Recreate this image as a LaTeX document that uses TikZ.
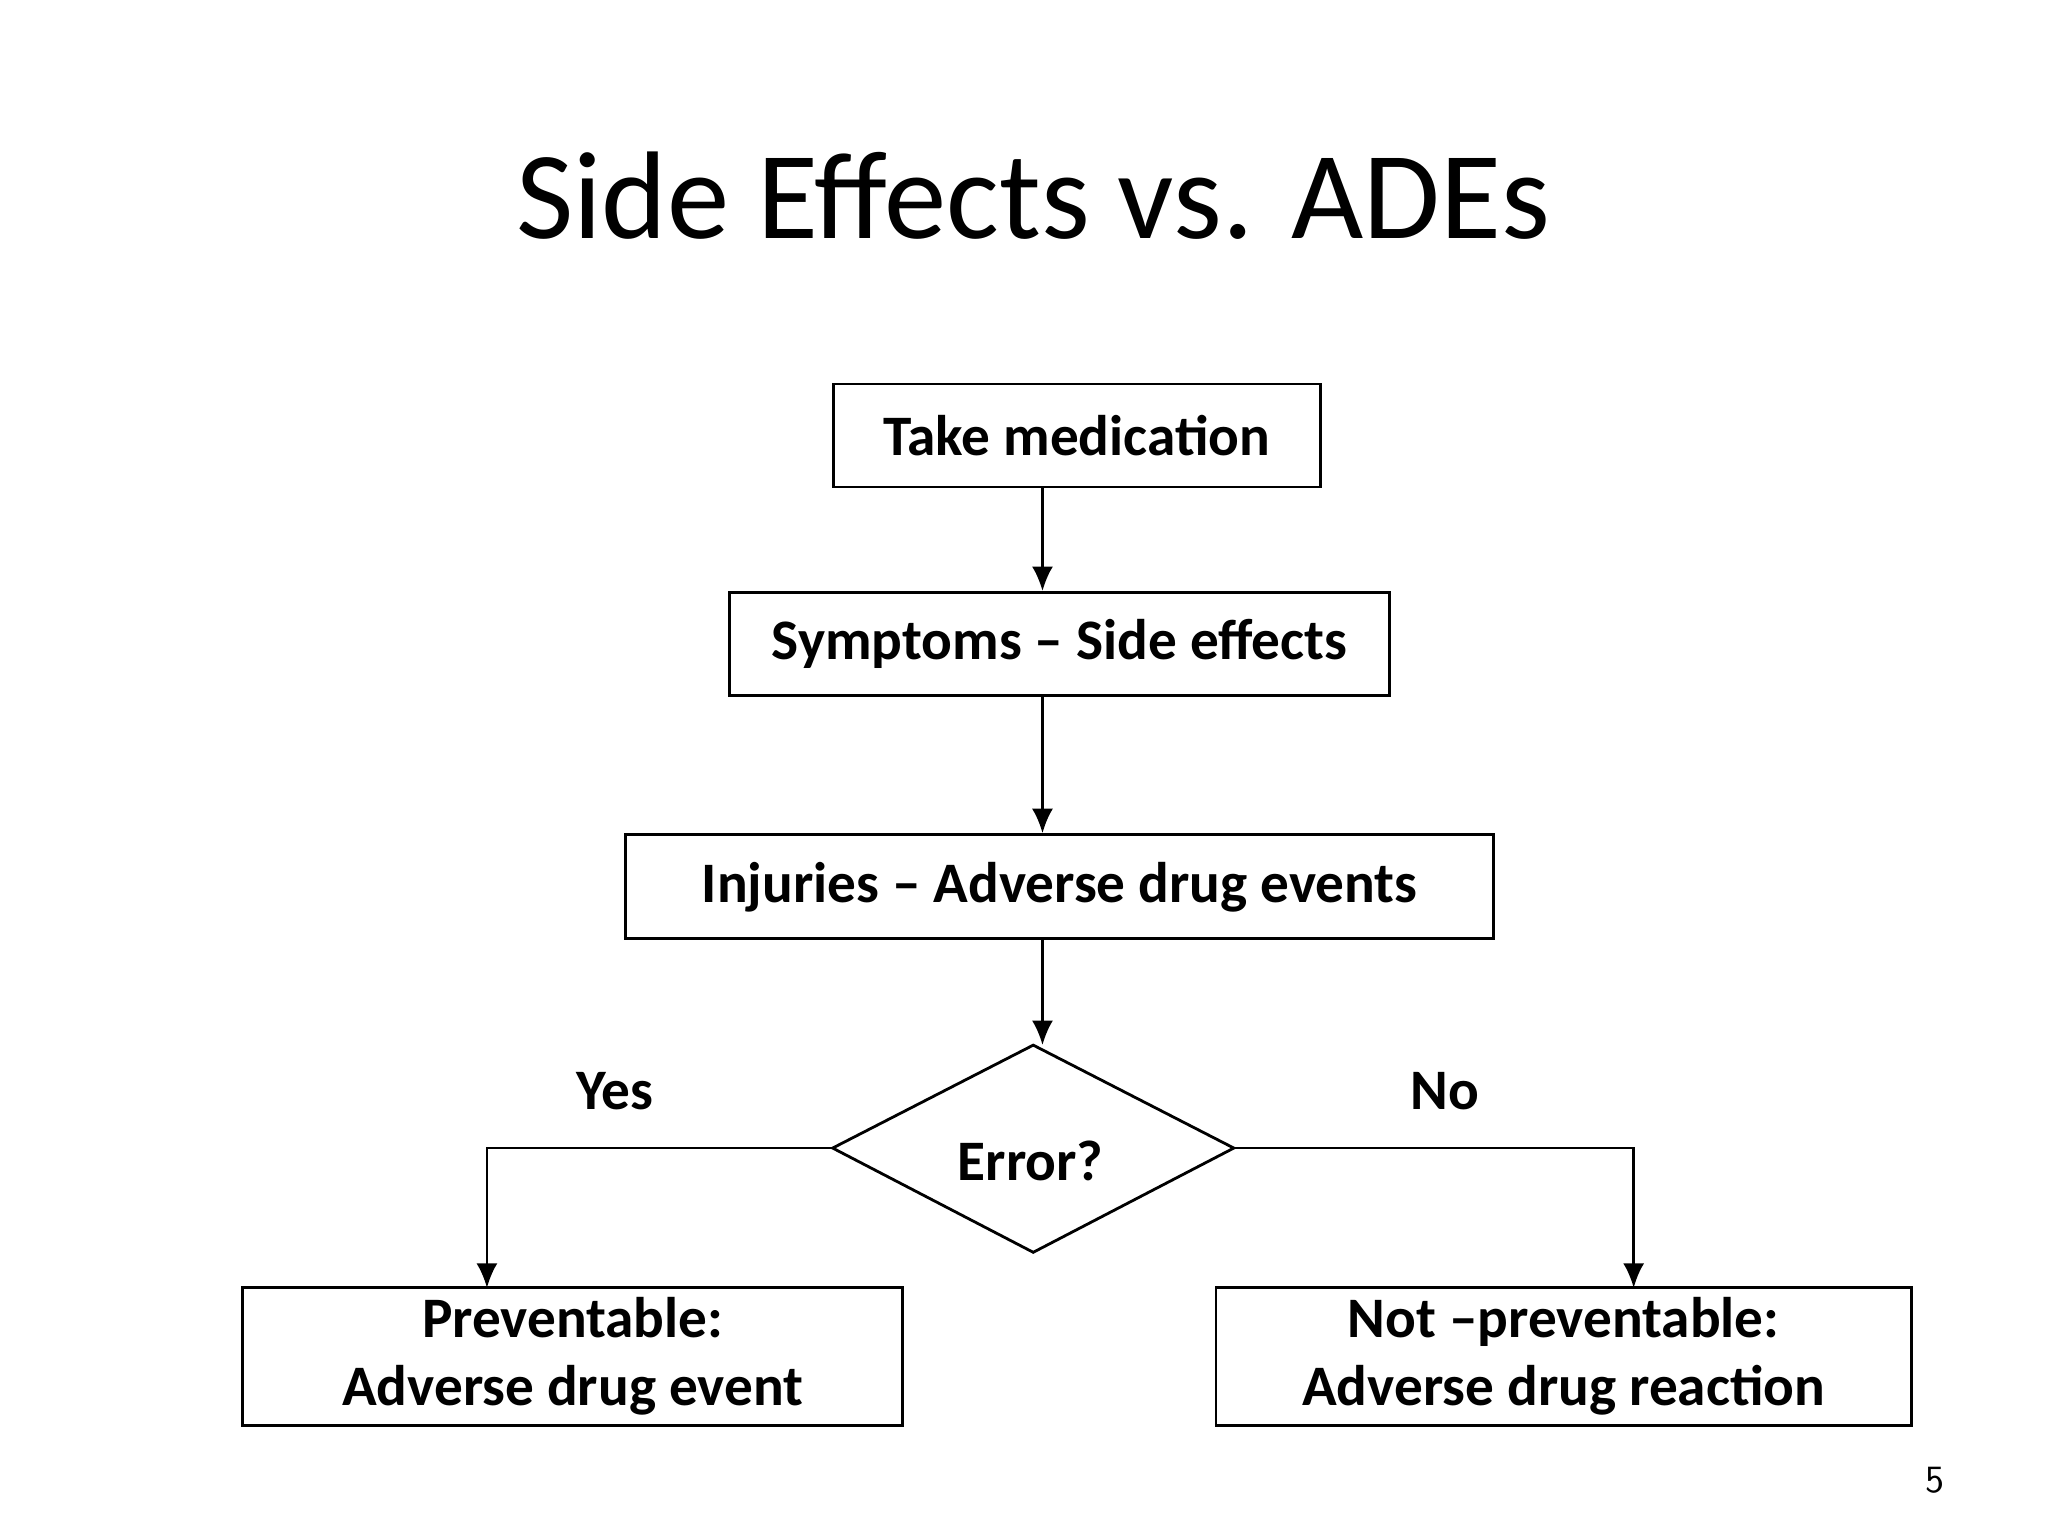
\documentclass[tikz,border=0pt]{standalone}
\usepackage{fontspec}
\setmainfont{Carlito}
\usetikzlibrary{shapes.geometric,arrows.meta}
\begin{document}
\begin{tikzpicture}[x=0.013196cm,y=-0.013196cm,
 box/.style={draw,line width=0.8pt,inner sep=0pt,font=\fontsize{16.3}{19.3}\selectfont\bfseries,align=center},
 arr/.style={line width=0.8pt,-{Latex[length=7pt,width=6pt]}},
 lbl/.style={font=\fontsize{16.3}{19.3}\selectfont\bfseries}]
\useasboundingbox (0,0) rectangle (1552,1164);
\node[font=\fontsize{35.5}{42}\selectfont] (title) at (783,148) {Side Effects vs. ADEs};
\node[box,minimum width=369*0.013196cm,minimum height=78*0.013196cm] (take) at (816,330) {Take medication};
\node[box,minimum width=500*0.013196cm,minimum height=78*0.013196cm] (sym) at (803,488) {Symptoms – Side effects};
\node[box,minimum width=658*0.013196cm,minimum height=79*0.013196cm] (inj) at (803,672) {Injuries – Adverse drug events};
\draw[line width=0.8pt] (631,870) -- (783,792) -- (935,870) -- (783,949) -- cycle;
\coordinate (dl) at (631,870); \coordinate (dr) at (935,870); \coordinate (dt) at (790,792);
\node[lbl] (err) at (781,880) {Error?};
\node[box,minimum width=500*0.013196cm,minimum height=105*0.013196cm] (prev) at (434,1028) {Preventable:\\Adverse drug event};
\node[box,minimum width=527*0.013196cm,minimum height=105*0.013196cm] (notp) at (1185,1028) {Not –preventable:\\Adverse drug reaction};
\draw[arr] (take.south -| dt) -- (sym.north -| dt);
\draw[arr] (sym.south -| dt) -- (inj.north -| dt);
\draw[arr] (inj.south -| dt) -- (dt);
\draw[arr] (dl) -- (369,870) -- (369,976);
\draw[arr] (dr) -- (1238,870) -- (1238,976);
\node[lbl] (yes) at (466,827) {Yes};
\node[lbl] (no) at (1095,827) {No};
\node[font=\fontsize{11}{13}\selectfont\sffamily] (pg) at (1466,1122) {5};
\end{tikzpicture}
\end{document}
